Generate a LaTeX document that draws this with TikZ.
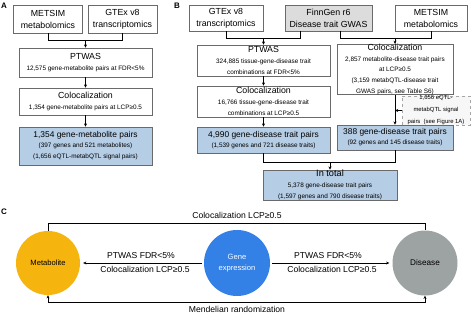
\documentclass[tikz,border=0pt]{standalone}
\usepackage{fontspec}
\setmainfont{Liberation Sans}
\usetikzlibrary{arrows.meta}
\definecolor{boxblue}{HTML}{B5CDE5}
\definecolor{boxgray}{HTML}{DCDCDC}
\definecolor{edgegray}{HTML}{6A6A6A}
\definecolor{metcol}{HTML}{F6B40E}
\definecolor{genecol}{HTML}{3380E6}
\definecolor{discol}{HTML}{9DA3A2}
\newcommand{\hd}{\fontsize{8.8}{10.2}\selectfont}
\newcommand{\smt}{\fontsize{6.4}{7.6}\selectfont}
\newcommand{\dsm}{\fontsize{5.9}{6.5}\selectfont}
\newcommand{\bmain}{\fontsize{8.4}{10}\selectfont}
\newcommand{\clab}{\fontsize{8.6}{10}\selectfont}
\tikzset{
  x=1pt, y=-1pt,
  flowbox/.style={draw=edgegray, line width=0.7pt, fill=white, rectangle, inner sep=0pt, align=center, anchor=center},
  bluebox/.style={flowbox, fill=boxblue},
  graybox/.style={flowbox, fill=boxgray},
  dashbox/.style={draw=gray!70, dashed, line width=0.6pt, fill=gray!6, rectangle, inner sep=0pt, align=center},
  conn/.style={line width=0.8pt, draw=black},
  arr/.style={conn, -{Stealth[length=3.2pt,width=3pt]}},
  panel/.style={font=\fontsize{8}{9}\selectfont\bfseries, anchor=center},
  circ/.style={circle, inner sep=0pt, minimum size=#1, align=center},
  lab/.style={font=\clab, anchor=center, inner sep=0pt},
}
\begin{document}
\begin{tikzpicture}
\useasboundingbox (0,0) rectangle (474,313);
\fill[white] (0,0) rectangle (474,313);
% panel labels
\node[panel] (labA) at (4,6) {A};
\node[panel] (labB) at (177,6) {B};
\node[panel] (labC) at (4,212) {C};
% ---------- Panel A ----------
\node[flowbox, minimum width=69pt, minimum height=28pt] (metA) at (48,19) {\hd METSIM\\\hd metabolomics};
\node[flowbox, minimum width=69pt, minimum height=28pt] (gtexA) at (122.5,19) {\hd GTEx v8\\\hd transcriptomics};
\node[flowbox, minimum width=133pt, minimum height=29pt] (ptwasA) at (85.5,62.5) {\hd PTWAS\\[-1pt]\smt 12,575 gene-metabolite pairs at FDR<5\%};
\node[flowbox, minimum width=133pt, minimum height=27pt] (colA) at (85.5,101.5) {\hd Colocalization\\[-1pt]\smt 1,354 gene-metabolite pairs at LCP≥0.5};
\node[bluebox, minimum width=133pt, minimum height=38pt] (resA) at (85.5,146) {\bmain 1,354 gene-metabolite pairs\\[-2pt]\smt (397 genes and 521 metabolites)\\[-1pt]\smt (1,656 eQTL-metabQTL signal pairs)};
\coordinate (jA) at (85.5,40);
\draw[conn] (metA.south) -- (metA.south |- jA) -- (gtexA.south |- jA) -- (gtexA.south);
\draw[arr] (jA) -- (ptwasA.north);
\draw[arr] (ptwasA.south) -- (colA.north);
\draw[arr] (colA.south) -- (resA.north);
% ---------- Panel B ----------
\node[flowbox, minimum width=74pt, minimum height=26pt] (gtexB) at (226,18) {\hd GTEx v8\\\hd transcriptomics};
\node[graybox, minimum width=87pt, minimum height=26pt] (finn) at (328.5,18) {\hd FinnGen r6\\\hd Disease trait GWAS};
\node[flowbox, minimum width=72pt, minimum height=26pt] (metB) at (431,18) {\hd METSIM\\\hd metabolomics};
\node[flowbox, minimum width=133pt, minimum height=31pt] (ptwasB) at (263.5,60.5) {\hd PTWAS\\[-1.5pt]\smt 324,885 tissue-gene-disease trait\\[-1pt]\smt combinations at FDR<5\%};
\node[flowbox, minimum width=133pt, minimum height=31pt] (colB) at (263.5,101.5) {\hd Colocalization\\[-1.5pt]\smt 16,766 tissue-gene-disease trait\\[-1pt]\smt combinations at LCP≥0.5};
\node[bluebox, minimum width=133pt, minimum height=26pt] (res4990) at (263.5,140) {\bmain 4,990 gene-disease trait pairs\\[-2pt]\smt (1,539 genes and 721 disease traits)};
\node[flowbox, minimum width=116pt, minimum height=49pt] (colR) at (395,69.5) {\hd Colocalization\\[-1.5pt]\smt 2,857 metabolite-disease trait pairs\\[-1.2pt]\smt at LCP≥0.5\\[-1.2pt]\smt (3,159 metabQTL-disease trait\\[-1.2pt]\smt GWAS pairs, see Table S6)};
\node[dashbox, minimum width=68pt, minimum height=24pt] (dash) at (436,110.5) {\dsm 1,656 eQTL-\\\dsm metabQTL signal\\\dsm pairs \ (see Figure 1A)};
\node[bluebox, minimum width=116pt, minimum height=25pt] (res388) at (395,137.5) {\bmain 388 gene-disease trait pairs\\[-2pt]\smt (92 genes and 145 disease traits)};
\node[bluebox, minimum width=134pt, minimum height=30pt] (total) at (330,185) {\fontsize{9.2}{10.5}\selectfont In total\\[-1.5pt]\smt 5,378 gene-disease trait pairs\\[-1pt]\smt (1,597 genes and 790 disease traits)};
\coordinate (jB1) at (263.5,38);
\coordinate (jB2) at (395,38);
\coordinate (jB3) at (330,162);
\coordinate (fL) at (300,31);
\coordinate (fR) at (340,31);
\draw[conn] (gtexB.south) -- (gtexB.south |- jB1) -- (fL |- jB1) -- (fL);
\draw[arr] (jB1) -- (ptwasB.north);
\draw[conn] (fR) -- (fR |- jB2) -- (metB.south |- jB2) -- (metB.south);
\draw[arr] (jB2) -- (colR.north);
\draw[arr] (ptwasB.south) -- (colB.north);
\draw[arr] (colB.south) -- (res4990.north);
\draw[arr] (colR.south) -- (res388.north);
\coordinate (dj) at (395,110.5);
\draw[arr] (dash.west) -- (dj);
\draw[conn] (res4990.south) -- (res4990.south |- jB3) -- (res388.south |- jB3) -- (res388.south);
\draw[arr] (jB3) -- (total.north);
% ---------- Panel C ----------
\node[circ=64pt, fill=metcol] (met) at (48,263) {\fontsize{7.6}{9}\selectfont Metabolite};
\node[circ=66pt, fill=genecol, text=white] (gene) at (237,263) {\fontsize{7.6}{9}\selectfont Gene\\[-1pt]\fontsize{7.6}{9}\selectfont expression};
\node[circ=65pt, fill=discol] (dis) at (425,263) {\fontsize{8.2}{9}\selectfont Disease};
\coordinate (topy) at (0,223);
\coordinate (boty) at (0,302);
\draw[conn] (met.north) -- (met.north |- topy) -- (dis.north |- topy) -- (dis.north);
\node[lab] (toplab) at (237,215) {Colocalization LCP≥0.5};
\draw[arr] (met.south |- boty) -- (met.south);
\draw[arr] (met.south |- boty) -- (dis.south |- boty) -- (dis.south);
\node[lab] (botlab) at (237,309.5) {Mendelian randomization};
\draw[arr, shorten >=3pt, shorten <=2pt] (gene.west) -- (met.east);
\draw[arr, shorten >=3pt, shorten <=2pt] (gene.east) -- (dis.west);
\node[lab] (l1) at (141,255.5) {PTWAS FDR<5\%};
\node[lab] (l2) at (145,269.5) {Colocalization LCP≥0.5};
\node[lab] (r1) at (328,255.5) {PTWAS FDR<5\%};
\node[lab] (r2) at (332,269.5) {Colocalization LCP≥0.5};
\end{tikzpicture}
\end{document}
